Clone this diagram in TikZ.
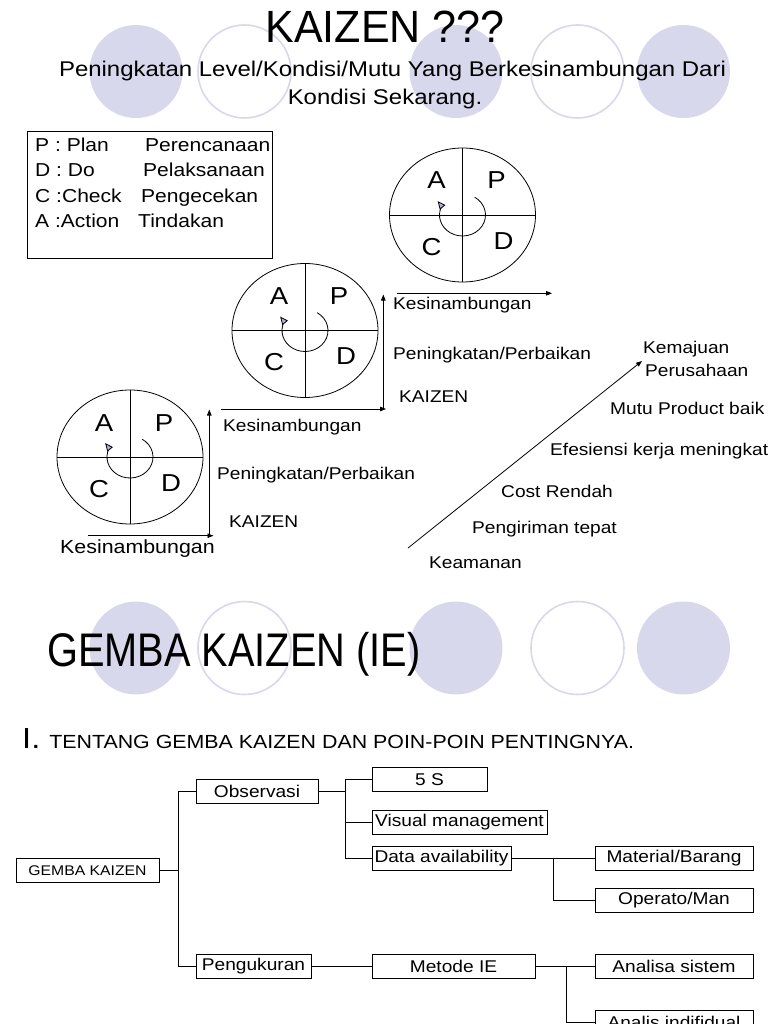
\documentclass[tikz,border=0pt]{standalone}
\usepackage{fontspec}
\setmainfont{Liberation Sans}[FakeStretch=1.125]
\newfontfamily\plainsans{Liberation Sans}
\usetikzlibrary{arrows.meta}
\definecolor{lav}{RGB}{216,216,236}
\definecolor{lavtip}{RGB}{176,176,222}
\newcommand\fsz[1]{\fontsize{#1}{#1}\selectfont}
\newcommand\pdcacyc[1]{%
  \begin{scope}[shift={(#1)}]
    \draw[thinline] (0,0) ellipse[x radius=73,y radius=67];
    \draw[thinline] (0,-67) -- (0,67);
    \draw[thinline] (-73,0) -- (73,0);
    \node[letter] at (-26,-26) {A};
    \node[letter] at (34,-26) {P};
    \node[letter] at (-31,40) {C};
    \node[letter] at (41,34) {D};
    \draw[cyc] (-58:23 and 21) arc[start angle=-58,end angle=205,x radius=23,y radius=21] -- ++(-4,-5);
  \end{scope}}
\begin{document}
\begin{tikzpicture}[x=1pt,y=-1pt,
  thinline/.style={line width=0.8pt},
  txt/.style={inner sep=0pt,anchor=base west},
  lab/.style={txt,font=\fsz{17}},
  boxtxt/.style={txt,font=\fsz{18.7}},
  letter/.style={inner sep=0pt,anchor=base,font=\fsz{24.5}},
  arr/.style={thinline,-{Triangle[length=6pt,width=4.5pt]}},
  cyc/.style={thinline,-{Triangle[length=8pt,width=7pt,fill=lavtip]}},
  tbox/.style={draw,thinline,inner sep=1pt,minimum height=24pt,font=\fsz{17}},
  decofill/.style={fill=lav},
  decoring/.style={draw=lav,line width=1.6pt}]
\useasboundingbox (0,0) rectangle (768,1024);
\fill[white] (0,0) rectangle (768,1024);
% decorative circles
\foreach \yy in {71.5,648}{
  \fill[decofill] (136,\yy) circle[radius=46.5];
  \draw[decoring] (244.5,\yy) circle[radius=46.5];
  \fill[decofill] (456,\yy) circle[radius=46.5];
  \draw[decoring] (577.5,\yy) circle[radius=46.5];
  \fill[decofill] (683.5,\yy) circle[radius=46.5];
}
% titles
\node[inner sep=0pt,anchor=base,font=\plainsans\fsz{43}] (title) at (385,43) {\scalebox{1}[1.05]{KAIZEN ???}};
\node[inner sep=0pt,anchor=base,font=\fsz{21.3}] (sub1) at (392.5,77) {Peningkatan Level/Kondisi/Mutu Yang Berkesinambungan Dari};
\node[inner sep=0pt,anchor=base,font=\fsz{21.3}] (sub2) at (385,105) {Kondisi Sekarang.};
% legend box
\draw[thinline] (27,131) rectangle (272,258);
\node[boxtxt] (l1a) at (35,152) {P : Plan};
\node[boxtxt] (l1b) at (145,152) {Perencanaan};
\node[boxtxt] (l2a) at (35,177) {D : Do};
\node[boxtxt] (l2b) at (143,177) {Pelaksanaan};
\node[boxtxt] (l3a) at (35,203) {C :Check};
\node[boxtxt] (l3b) at (141,203) {Pengecekan};
\node[boxtxt] (l4a) at (35,228) {A :Action};
\node[boxtxt] (l4b) at (138,228) {Tindakan};
% PDCA cycles
\pdcacyc{130,457}
\pdcacyc{305,330.5}
\pdcacyc{462.5,215}
% step arrows
\coordinate (h1s) at (88,535.7);
\coordinate (h1e) at (213.5,535.7);
\coordinate (v1s) at (209.3,535.7);
\coordinate (v1e) at (209.3,409.5);
\coordinate (h2s) at (221,409);
\coordinate (h2e) at (386,409);
\coordinate (v2s) at (383.3,409);
\coordinate (v2e) at (383.3,294.5);
\coordinate (h3s) at (396.7,293.3);
\coordinate (h3e) at (552,293.3);
\draw[arr] (h1s) -- (h1e);
\draw[arr] (v1s) -- (v1e);
\draw[arr] (h2s) -- (h2e);
\draw[arr] (v2s) -- (v2e);
\draw[arr] (h3s) -- (h3e);
\node[txt,font=\fsz{19}] (k1) at (60,553) {Kesinambungan};
\node[lab] (p1) at (217,479) {Peningkatan/Perbaikan};
\node[lab] (z1) at (229,527) {KAIZEN};
\node[lab] (k2) at (223,431) {Kesinambungan};
\node[lab] (p2) at (393,359) {Peningkatan/Perbaikan};
\node[lab] (z2) at (399,402) {KAIZEN};
\node[lab] (k3) at (393,309) {Kesinambungan};
% diagonal
\coordinate (ds) at (408,548);
\coordinate (de) at (642,361);
\draw[arr] (ds) -- (de);
\node[lab] (m1) at (643,353) {Kemajuan};
\node[lab] (m2) at (645,376) {Perusahaan};
\node[lab] (m3) at (610,414) {Mutu Product baik};
\node[lab] (m4) at (550,455) {Efesiensi kerja meningkat};
\node[lab] (m5) at (501,497) {Cost Rendah};
\node[lab] (m6) at (472,533) {Pengiriman tepat};
\node[lab] (m7) at (429,568) {Keamanan};
% second part
\node[inner sep=0pt,anchor=base west,font=\plainsans\fsz{41}] (gtitle) at (47,666) {\scalebox{0.97}[1.15]{GEMBA KAIZEN (IE)}};
\node[txt] (sec) at (22,748) {{\fsz{29}I.}\hspace{9pt}{\fsz{19}TENTANG GEMBA KAIZEN DAN POIN-POIN PENTINGNYA.}};
% tree
\node[tbox,minimum width=143pt,font=\fsz{14}] (gk) at (87.5,870.5) {GEMBA KAIZEN};
\node[tbox,minimum width=122pt] (obs) at (257,791.5) {Observasi};
\node[tbox,minimum width=115pt] (pen) at (253.5,966) {Pengukuran};
\node[tbox,minimum width=115pt] (fs) at (429.5,779.5) {5 S};
\node[tbox,minimum width=175pt] (vm) at (459.5,822) {Visual management};
\node[tbox,minimum width=139pt] (da) at (441.5,858) {Data availability};
\node[tbox,minimum width=158pt] (mat) at (674,858) {Material/Barang};
\node[tbox,minimum width=158pt] (op) at (674,900) {Operato/Man};
\node[tbox,minimum width=163pt] (me) at (453.5,966) {Metode IE};
\node[tbox,minimum width=158pt] (as) at (674,966) {Analisa sistem};
\node[tbox,minimum width=158pt] (ai) at (674,1022) {Analis indifidual};
\coordinate (j1) at (178,870.5);
\coordinate (j2) at (345,791.5);
\coordinate (j3) at (553,858);
\coordinate (j4) at (566,966);
\draw[thinline] (gk.east) -- (j1);
\draw[thinline] (obs.west) -| (j1);
\draw[thinline] (pen.west) -| (j1);
\draw[thinline] (obs.east) -- (j2);
\draw[thinline] (fs.west) -| (j2);
\draw[thinline] (vm.west) -| (j2);
\draw[thinline] (da.west) -| (j2);
\draw[thinline] (da.east) -- (mat.west);
\draw[thinline] (op.west) -| (j3);
\draw[thinline] (pen.east) -- (me.west);
\draw[thinline] (me.east) -- (as.west);
\draw[thinline] (ai.west) -| (j4);
\end{tikzpicture}
\end{document}
